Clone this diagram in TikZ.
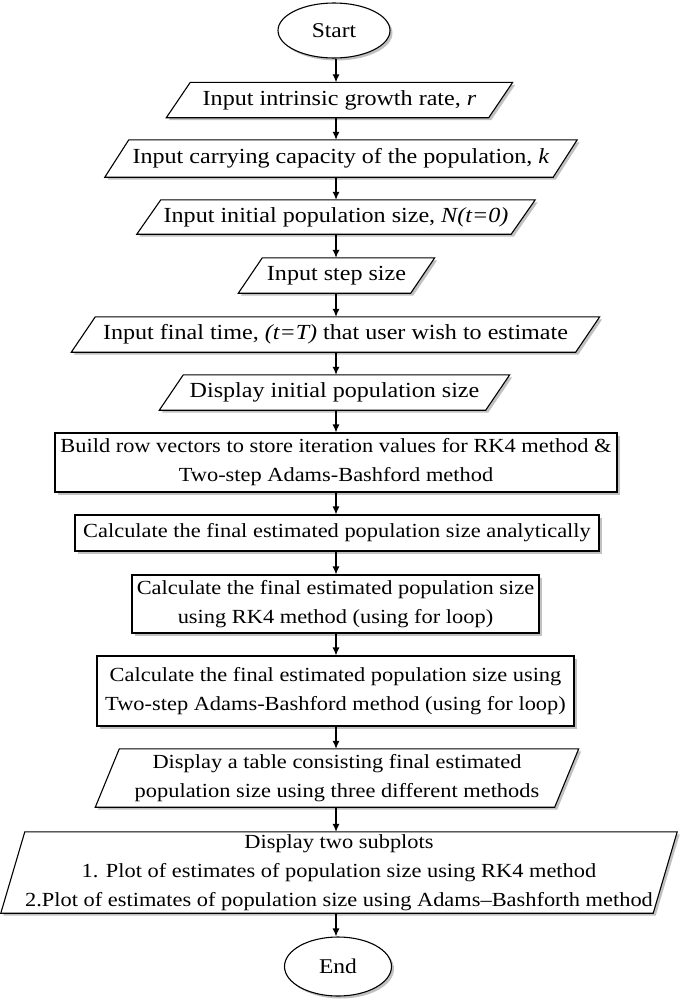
\documentclass[tikz,border=0pt]{standalone}
\usepackage{fontspec}
\setmainfont{Liberation Serif}[FakeStretch=1.12]
\usetikzlibrary{shapes.geometric,arrows.meta,shadows}
\pgfdeclarelayer{background}
\pgfsetlayers{background,main}
\tikzset{
  shad/.style={drop shadow={shadow xshift=2.5pt,shadow yshift=-2.5pt,fill=black!35,opacity=.7}},
  procbox/.style={draw=black,line width=1.1pt,fill=white,shad,rectangle,inner sep=0pt,align=center},
  iotext/.style={rectangle,inner sep=0pt,align=center},
  bigtext/.style={font=\fontsize{21.5}{29}\selectfont},
  iobox/.style={draw=black,line width=1.1pt,fill=white,shad},
  term/.style={draw=black,line width=1.1pt,fill=white,shad,ellipse,inner sep=0pt,font=\fontsize{21}{29}\selectfont},
  arr/.style={line width=1.1pt,-{Latex[length=8pt,width=7pt]}},
}
\newcommand\iopath[1]{\begin{pgfonlayer}{background}\draw[iobox] ([xshift=-12pt]#1.south west) -- ([xshift=12pt]#1.north west) -- ([xshift=12pt]#1.north east) -- ([xshift=-12pt]#1.south east) -- cycle;\end{pgfonlayer}}
\begin{document}
\begin{tikzpicture}[x=1pt,y=-1pt,font=\fontsize{20}{29}\selectfont]
\useasboundingbox (0,0) rectangle (685,1005);
\coordinate (axis) at (336,0);
\node[term,minimum width=112pt,minimum height=55pt] (start) at (334,30.5) {Start};
\node[iotext,bigtext,minimum width=322pt,minimum height=35pt] (p1) at (339.5,100) {Input intrinsic growth rate, \textit{r}};
\node[iotext,bigtext,minimum width=448pt,minimum height=37pt] (p2) at (341,158.5) {Input carrying capacity of the population, \textit{k}};
\node[iotext,bigtext,minimum width=374pt,minimum height=34pt] (p3) at (336,217) {Input initial population size, \textit{N(t=0)}};
\node[iotext,bigtext,minimum width=172pt,minimum height=35pt] (p4) at (336.5,275.5) {Input step size};
\node[iotext,bigtext,minimum width=504pt,minimum height=35pt] (p5) at (335.5,334.5) {Input final time, \textit{(t=T)} that user wish to estimate};
\node[iotext,bigtext,minimum width=326pt,minimum height=35pt] (p6) at (334.5,392.5) {Display initial population size};
\node[procbox,minimum width=562pt,minimum height=59pt] (r1) at (336,462.5) {Build row vectors to store iteration values for RK4 method \&\\Two-step Adams-Bashford method};
\node[procbox,minimum width=524pt,minimum height=36pt] (r2) at (337,533) {Calculate the final estimated population size analytically};
\node[procbox,minimum width=407pt,minimum height=58pt] (r3) at (335.5,604) {Calculate the final estimated population size\\using RK4 method (using for loop)};
\node[procbox,minimum width=477pt,minimum height=70pt] (r4) at (335.5,691) {Calculate the final estimated population size using\\Two-step Adams-Bashford method (using for loop)};
\node[iotext,minimum width=459pt,minimum height=58pt] (p7) at (337,778) {Display a table consisting final estimated\\population size using three different methods};
\node[iotext,minimum width=652pt,minimum height=81pt] (p8) at (339,872.5) {Display two subplots\\1. Plot of estimates of population size using RK4 method\\2.Plot of estimates of population size using Adams--Bashforth method};
\node[term,minimum width=107pt,minimum height=59pt] (end) at (338,966.5) {End};
\iopath{p1}\iopath{p2}\iopath{p3}\iopath{p4}\iopath{p5}\iopath{p6}\iopath{p7}\iopath{p8}
\draw[arr] (start.south -| axis) -- (p1.north -| axis);
\draw[arr] (p1.south -| axis) -- (p2.north -| axis);
\draw[arr] (p2.south -| axis) -- (p3.north -| axis);
\draw[arr] (p3.south -| axis) -- (p4.north -| axis);
\draw[arr] (p4.south -| axis) -- (p5.north -| axis);
\draw[arr] (p5.south -| axis) -- (p6.north -| axis);
\draw[arr] (p6.south -| axis) -- (r1.north -| axis);
\draw[arr] (r1.south -| axis) -- (r2.north -| axis);
\draw[arr] (r2.south -| axis) -- (r3.north -| axis);
\draw[arr] (r3.south -| axis) -- (r4.north -| axis);
\draw[arr] (r4.south -| axis) -- (p7.north -| axis);
\draw[arr] (p7.south -| axis) -- (p8.north -| axis);
\draw[arr] (p8.south -| axis) -- (end.north -| axis);
\end{tikzpicture}
\end{document}
